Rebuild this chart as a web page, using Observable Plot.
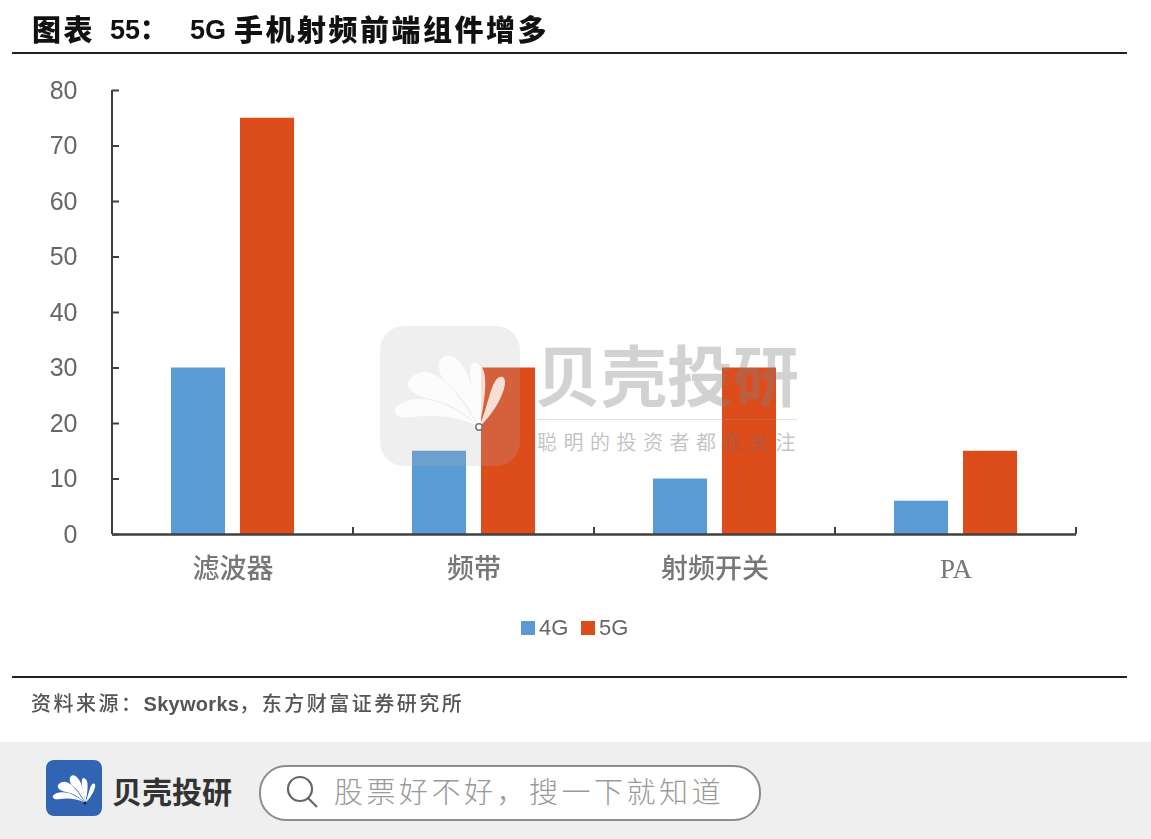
<!DOCTYPE html>
<html lang="zh">
<head>
<meta charset="utf-8">
<script src="https://cdn.jsdelivr.net/npm/d3@7"></script>
<script src="https://cdn.jsdelivr.net/npm/@observablehq/plot@0.6"></script>
<style>
html,body{margin:0;padding:0;background:#fff;width:1151px;height:839px;overflow:hidden}
#page{position:relative;width:1151px;height:839px;overflow:hidden;font-family:"Noto Sans CJK SC",sans-serif}
#page>*{position:absolute}
#chart{left:0;top:0;filter:blur(.45px)}
.t{white-space:nowrap;line-height:1}
.rule{left:12px;width:1115px;height:2px;background:#222}
#title{left:0;top:0;width:700px;height:50px;filter:blur(.5px)}
#title span{position:absolute;top:14px;font-size:29px;line-height:1;font-weight:900;color:#111;white-space:nowrap;letter-spacing:2.5px;font-family:'Noto Sans CJK SC',sans-serif}
#title span.n{letter-spacing:0;font-size:27px;top:17px;font-family:'Liberation Sans','Noto Sans CJK SC',sans-serif}
</style>
</head>
<body>
<div id="page">
  <div id="footerbg" style="left:0;top:742px;width:1151px;height:97px;background:#efefef"></div>
  <div id="chart"></div>
  <div id="title"></div>
  <div class="rule" style="top:52px"></div>
  <div class="rule" style="top:676px"></div>
  <div class="t" id="source" style="left:31px;top:693px;font-size:20px;color:#555;font-weight:500;letter-spacing:2.5px;font-family:'Noto Sans CJK SC',sans-serif;filter:blur(.5px)"></div>
  <div id="legend" style="left:0;top:0"></div>

  <svg style="left:0;top:0;width:0;height:0">
    <symbol id="fan" viewBox="0 0 140 140">
      <path d="M99,101C80,85 60,72 36,73C25,74 14,80 15,85C16,92 24,92 34,91C55,88 78,90 99,101Z"/>
      <path d="M99,101C85,80 68,50 47,46C36,45 27,53 28,59C29,66 38,70 47,72C68,76 85,86 99,101Z"/>
      <path d="M99,101C97,75 90,42 74,31C66,27 60,31 59,38C58,46 62,53 68,58C80,68 92,85 99,101Z"/>
      <path d="M99,101C104,80 108,55 103,43C99,36 93,34 91,40C88,50 93,65 95,75C97,85 98,93 99,101Z"/>
      <path d="M99,101C112,90 125,68 125,56C125,50 120,49 116,54C110,62 108,80 99,101Z"/>
    </symbol>
  </svg>

  <!-- watermark, drawn above the bars -->
  <svg style="left:380px;top:326px" width="140" height="140">
    <rect width="140" height="140" rx="24" fill="rgb(180,180,180)" fill-opacity=".21"/>
    <use href="#fan" width="140" height="140" fill="#fff" fill-opacity=".8"/>
    <circle cx="99" cy="101" r="3.2" fill="#fff" stroke="#777" stroke-width="1.5"/>
  </svg>
  <div class="t" id="wm1" style="left:535px;top:339px;font-size:66px;font-weight:700;color:rgba(130,130,130,.36)"></div>
  <div style="left:537px;top:419px;width:260px;height:1px;background:rgba(150,150,150,.3)"></div>
  <div class="t" id="wm2" style="left:537px;top:432px;font-size:20px;letter-spacing:6.5px;color:rgba(110,110,110,.42)"></div>

  <!-- footer -->
  <svg style="left:46px;top:760px" width="56" height="56">
    <rect width="56" height="56" rx="8" fill="#3264b4"/>
    <use href="#fan" x="1" y="4" width="54" height="54" fill="#fff"/>
    <circle cx="39" cy="43" r="1.6" fill="#222"/>
  </svg>
  <div class="t" id="brand" style="left:112px;top:775px;font-size:30px;font-weight:700;color:#333"></div>
  <div style="left:259px;top:765px;width:498px;height:52px;border:2px solid #8c8c8c;border-radius:27px;background:#fff"></div>
  <svg style="left:284px;top:774px" width="36" height="36" fill="none" stroke="#666" stroke-width="2.2">
    <circle cx="16" cy="15" r="12"/><path d="M24,24L33,33"/>
  </svg>
  <div class="t" id="search" style="left:334px;top:776px;font-size:29px;letter-spacing:3.5px;color:#999;font-weight:300"></div>
</div>
<script>
const titleParts = ["图表", "55\uFF1A", "5G", "手机射频前端组件增多"];
const sourceParts = ["资料来源\uFF1A", "Skyworks", "\uFF0C东方财富证券研究所"];
const categories = ["滤波器", "频带", "射频开关", "PA"];
const series = ["4G", "5G"];
const values4G = [30, 15, 10, 6];
const values5G = [75, 30, 30, 15];
const yTicks = [0, 10, 20, 30, 40, 50, 60, 70, 80];
const seriesColors = ["#5b9bd5", "#dd4c1b"];
const brandText = "贝壳投研";
const watermarkSub = "聪明的投资者都在关注";
const searchText = "股票好不好\uFF0C搜一下就知道";

const rows = categories.flatMap((c, i) => [
  {category: c, series: series[0], value: values4G[i]},
  {category: c, series: series[1], value: values5G[i]}
]);

const axisColor = "#404040";
const plot = Plot.plot({
  width: 1151,
  height: 839,
  marginLeft: 112,
  marginRight: 75,
  marginTop: 90,
  marginBottom: 305,
  style: {background: "transparent", overflow: "visible"},
  fx: {domain: categories, paddingInner: 0, paddingOuter: 0, round: false, label: null},
  x: {domain: series, paddingInner: 0.217, paddingOuter: 0.855, round: false, axis: null, label: null},
  y: {domain: [0, 80], label: null},
  color: {domain: series, range: seriesColors},
  marks: [
    Plot.barY(rows, {fx: "category", x: "series", y: "value", fill: "series"}),
    Plot.ruleY([0], {stroke: axisColor, strokeWidth: 2.4}),
    Plot.axisY({
      ticks: yTicks, tickSize: -7, tickPadding: 42, stroke: axisColor, strokeWidth: 2,
      fill: "#666", fontSize: 25, fontFamily: "Liberation Sans", label: null
    }),
    Plot.axisFx({
      anchor: "bottom", tickSize: 0, tickPadding: 24, label: null,
      fill: "#777", fontSize: 27, fontWeight: 500,
      fontFamily: "Liberation Serif, Noto Sans CJK SC"
    })
  ]
});
document.getElementById("chart").append(plot);

// axis spine and the category-boundary ticks, placed with Plot's own scales
const fx = plot.scale("fx"), y = plot.scale("y");
const edges = categories.map(c => fx.apply(c)).concat(fx.apply(categories[categories.length - 1]) + fx.bandwidth);
const overlay = d3.select(plot.tagName === "svg" ? plot : plot.querySelector("svg")).append("g")
  .attr("stroke", axisColor).attr("stroke-width", 2).attr("fill", "none");
overlay.append("line").attr("x1", edges[0]).attr("x2", edges[0]).attr("y1", y.apply(80)).attr("y2", y.apply(0));
overlay.selectAll(".edge").data(edges).join("line").attr("class", "edge")
  .attr("x1", d => d).attr("x2", d => d).attr("y1", y.apply(0)).attr("y2", y.apply(0) - 7);

const titleEl = document.getElementById("title");
[32, 110, 190, 234].forEach((left, i) => {
  const s = document.createElement("span");
  s.textContent = titleParts[i];
  s.style.left = left + "px";
  if (i === 1 || i === 2) s.className = "n";
  titleEl.append(s);
});
const sourceEl = document.getElementById("source");
sourceParts.forEach((part, i) => {
  const s = document.createElement("span");
  s.textContent = part;
  if (i === 1) s.style.cssText = "font-family:'Liberation Sans';font-weight:700;letter-spacing:.3px";
  sourceEl.append(s);
});
document.getElementById("brand").textContent = brandText;
document.getElementById("wm1").textContent = brandText;
document.getElementById("wm2").textContent = watermarkSub;
document.getElementById("search").textContent = searchText;

const legend = document.getElementById("legend");
series.forEach((s, i) => {
  const sw = document.createElement("div");
  sw.style.cssText = `position:absolute;left:${521 + i * 60}px;top:621px;width:14px;height:14px;background:${seriesColors[i]}`;
  const tx = document.createElement("div");
  tx.className = "t";
  tx.textContent = s;
  tx.style.cssText = `position:absolute;left:${539 + i * 60}px;top:617px;font-size:22px;color:#666;font-family:'Liberation Sans',sans-serif;filter:blur(.4px)`;
  legend.append(sw, tx);
});
</script>
</body>
</html>
